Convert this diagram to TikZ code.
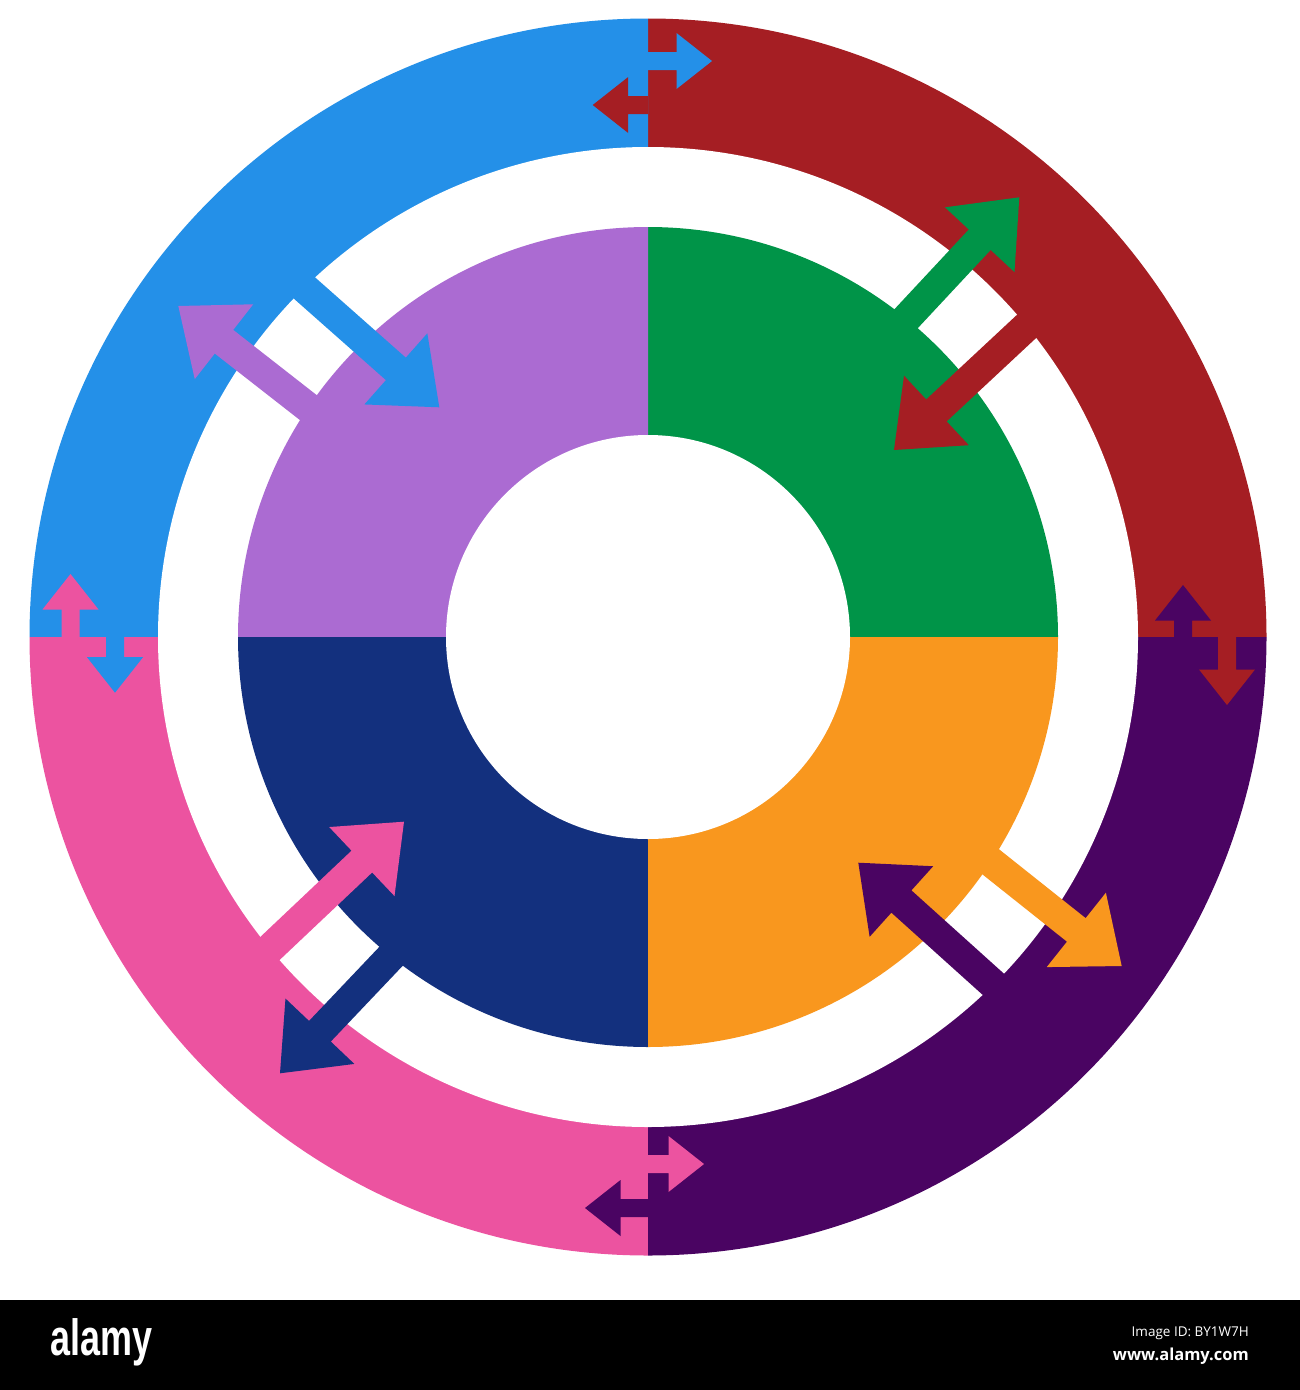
\documentclass[tikz,border=0pt]{standalone}
\usepackage{fontspec}
\setmainfont{Liberation Sans}
\newfontfamily\opensans{Open Sans}
\definecolor{cblue}{HTML}{2490E8}
\definecolor{cred}{HTML}{A51E23}
\definecolor{cpurp}{HTML}{4A0462}
\definecolor{cpink}{HTML}{EC53A0}
\definecolor{clav}{HTML}{AB6BD2}
\definecolor{cgreen}{HTML}{009448}
\definecolor{corange}{HTML}{F9971E}
\definecolor{cnavy}{HTML}{13307E}
% pie slice: colour, start angle, end angle, radius
\newcommand{\pieslice}[4]{\fill[#1] (648,-637) -- ++(#2:#4) arc[start angle=#2, end angle=#3, radius=#4] -- cycle;}
% arrow: colour, tip x, tip y (image), direction angle, total length, shaft half width, head half width, head length
\newcommand{\arrowshape}[8]{\fill[#1, shift={(#2,-#3)}, rotate=#4] (0,0) -- (-#8,#7) -- (-#8,#6) -- (-#5,#6) -- (-#5,-#6) -- (-#8,-#6) -- (-#8,-#7) -- cycle;}
\newcommand{\bigarr}[5]{\arrowshape{#1}{#2}{#3}{#4}{#5}{15}{47.5}{58}}
\newcommand{\smallarr}[5]{\arrowshape{#1}{#2}{#3}{#4}{#5}{9}{28}{35.5}}
\begin{document}
\begin{tikzpicture}[x=1pt,y=1pt]
\useasboundingbox (0,0) rectangle (1300,-1390);
\fill[white] (0,0) rectangle (1300,-1390);
% outer ring
\pieslice{cred}{0}{90}{618.5}
\pieslice{cblue}{90}{180}{618.5}
\pieslice{cpink}{180}{270}{618.5}
\pieslice{cpurp}{270}{360}{618.5}
\fill[white] (648,-637) circle[radius=490];
% inner ring
\pieslice{cgreen}{0}{90}{410}
\pieslice{clav}{90}{180}{410}
\pieslice{cnavy}{180}{270}{410}
\pieslice{corange}{270}{360}{410}
\fill[white] (648,-637) circle[radius=202];
% diagonal arrow pairs
\bigarr{cblue}{439.3}{407.3}{-41.5}{260}
\bigarr{clav}{178.3}{306}{142}{260}
\bigarr{cgreen}{1019.3}{197.3}{47}{260}
\bigarr{cred}{894}{450}{223}{260}
\bigarr{corange}{1121.7}{966}{-38.5}{260}
\bigarr{cpurp}{858.3}{862.7}{138}{260}
\bigarr{cpink}{404}{821.7}{43.4}{260}
\bigarr{cnavy}{280}{1073.3}{226.5}{260}
% small arrows at the quadrant boundaries
\smallarr{cblue}{712}{61}{0}{64}
\smallarr{cred}{592.7}{105}{180}{55.3}
\smallarr{cpink}{70.5}{574}{90}{63}
\smallarr{cblue}{115}{692.7}{-90}{55.7}
\smallarr{cpurp}{1183}{585}{90}{52}
\smallarr{cred}{1227}{705}{-90}{68}
\smallarr{cpink}{704}{1164}{0}{56}
\smallarr{cpurp}{585}{1208}{180}{63}
% bottom bar
\fill[black] (0,-1300) rectangle (1300,-1390);
\node[anchor=base west, inner sep=0pt, text=white, font=\fontsize{51}{51}\selectfont\bfseries] (logo) at (50.5,-1355) {\scalebox{0.705}[1]{alamy}};
\node[anchor=base east, inner sep=0pt, text=white, font=\opensans\fontsize{13.5}{14}\selectfont] (imgid) at (1249,-1336.7) {Image ID: BY1W7H};
\node[anchor=base east, inner sep=0pt, text=white, font=\opensans\fontsize{16.5}{17}\selectfont\bfseries] (url) at (1249,-1360) {www.alamy.com};
\end{tikzpicture}
\end{document}
